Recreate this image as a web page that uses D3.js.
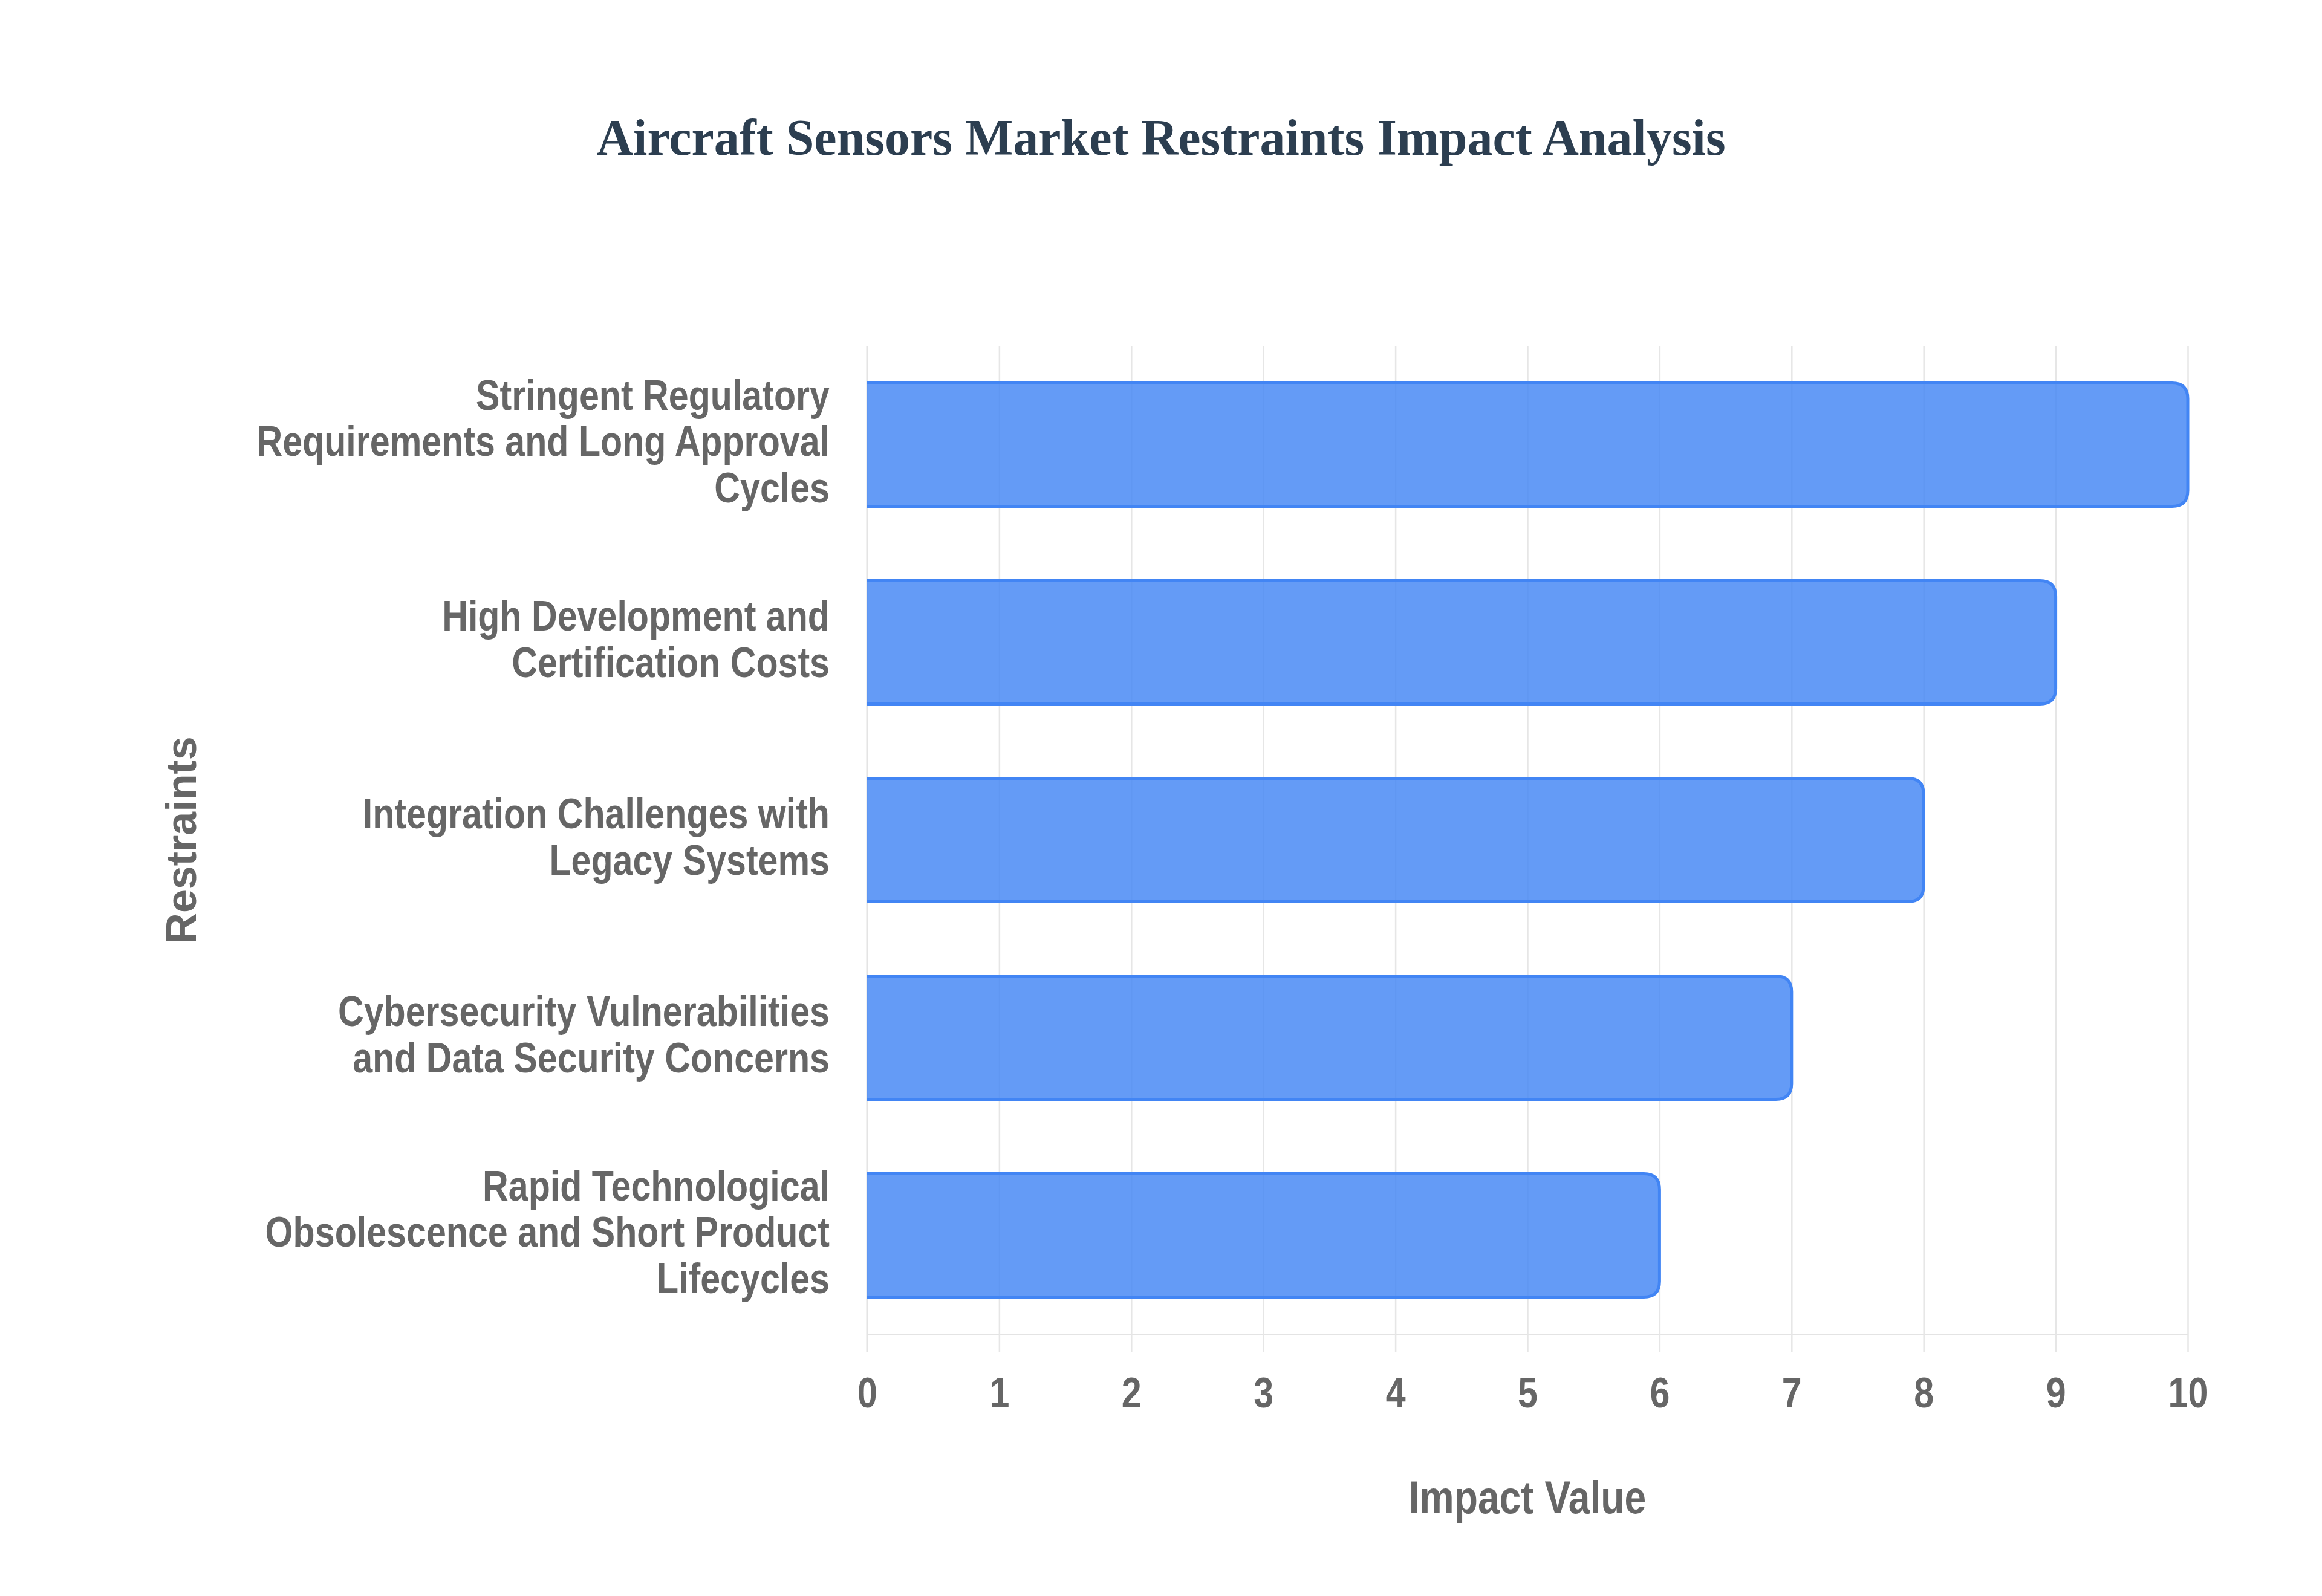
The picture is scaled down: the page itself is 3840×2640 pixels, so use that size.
<!DOCTYPE html>
<html>
<head>
<meta charset="utf-8">
<script src="https://cdn.jsdelivr.net/npm/d3@7"></script>
<style>
  body { margin: 0; background: #fff; }
  .tick-label { font-family: "Liberation Sans", Arial, sans-serif; font-weight: bold; fill: #666; }
</style>
</head>
<body>
<div class="viz"></div>
<script>
var restraints = [
    [ "Stringent Regulatory", "Requirements and Long Approval", "Cycles" ],
    [ "High Development and", "Certification Costs" ],
    [ "Integration Challenges with", "Legacy Systems" ],
    [ "Cybersecurity Vulnerabilities", "and Data Security Concerns" ],
    [ "Rapid Technological", "Obsolescence and Short Product", "Lifecycles" ]
];
var impactValues = [ 10, 9, 8, 7, 6 ];
var xTicks = [ 0, 1, 2, 3, 4, 5, 6, 7, 8, 9, 10 ];

var W = 3840, H = 2640,
    margin = { top: 572, right: 222, bottom: 433, left: 1434 },
    width = W - margin.left - margin.right,
    height = H - margin.top - margin.bottom,
    squeeze = 0.845; // labels in the source are in a condensed face

var svg = d3.select( ".viz" )
    .append( "svg" )
    .attr( "width", W )
    .attr( "height", H );

svg.append( "text" )
    .attr( "x", 1920 )
    .attr( "y", 256 )
    .attr( "text-anchor", "middle" )
    .style( "font-family", '"Liberation Serif", "Times New Roman", serif' )
    .style( "font-weight", "bold" )
    .style( "font-size", "84px" )
    .style( "fill", "#2c3e50" )
    .text( "Aircraft Sensors Market Restraints Impact Analysis" );

var g = svg.append( "g" )
    .attr( "transform", "translate(" + margin.left + "," + margin.top + ")" );

var x = d3.scaleLinear()
    .domain( [ 0, 10 ] )
    .range( [ 0, width ] );

var y = d3.scaleBand()
    .domain( d3.range( restraints.length ) )
    .range( [ 0, height ] )
    .paddingInner( 0.376 )
    .paddingOuter( 0.188 );

// vertical grid lines, running a little below the axis as ticks
var xAxis = d3.axisBottom( x )
    .tickValues( xTicks )
    .tickSize( -height )
    .tickSizeOuter( 0 )
    .tickPadding( 0 );

var xg = g.append( "g" )
    .attr( "transform", "translate(0," + height + ")" )
    .call( xAxis );

xg.select( ".domain" )
    .attr( "stroke", "#e4e4e4" )
    .attr( "stroke-width", 3 );

xg.selectAll( ".tick line" )
    .attr( "stroke", "#e6e6e6" )
    .attr( "stroke-width", 2.5 )
    .attr( "y1", 30 );

xg.selectAll( ".tick text" )
    .attr( "class", "tick-label" )
    .attr( "y", 121 )
    .attr( "dy", 0 )
    .attr( "transform", "scale(" + squeeze + ",1)" )
    .style( "font-size", "70px" );

// left axis line
g.append( "line" )
    .attr( "x1", x( 0 ) )
    .attr( "x2", x( 0 ) )
    .attr( "y1", 0 )
    .attr( "y2", height + 30 )
    .attr( "stroke", "#e4e4e4" )
    .attr( "stroke-width", 3 );

// bars: square at the axis, rounded at the value end
var r = 26;
function barPath( d, i ) {
    var x0 = x( 0 ), x1 = x( d ), y0 = y( i ), y1 = y( i ) + y.bandwidth();
    return "M" + x0 + "," + y0 +
        "H" + ( x1 - r ) +
        "Q" + x1 + "," + y0 + " " + x1 + "," + ( y0 + r ) +
        "V" + ( y1 - r ) +
        "Q" + x1 + "," + y1 + " " + ( x1 - r ) + "," + y1 +
        "H" + x0;
}

g.selectAll( ".bar" )
    .data( impactValues )
    .enter()
    .append( "path" )
    .attr( "class", "bar" )
    .attr( "d", barPath )
    .style( "fill", "#4285f4" )
    .style( "fill-opacity", 0.82 )
    .style( "stroke", "#4285f4" )
    .style( "stroke-width", 5 );

// category labels
var lineH = 77;
var labels = g.selectAll( ".cat" )
    .data( restraints )
    .enter()
    .append( "text" )
    .attr( "class", "cat tick-label" )
    .attr( "text-anchor", "end" )
    .style( "font-size", "70px" )
    .attr( "transform", function( d, i ) {
        var cy = y( i ) + y.bandwidth() / 2;
        return "translate(-62," + ( cy - ( d.length - 1 ) * lineH / 2 + 19 ) + ") scale(" + squeeze + ",1)";
    } );

labels.selectAll( "tspan" )
    .data( function( d ) { return d; } )
    .enter()
    .append( "tspan" )
    .attr( "x", 0 )
    .attr( "y", function( d, i ) { return i * lineH; } )
    .text( function( d ) { return d; } );

// axis titles
svg.append( "text" )
    .attr( "transform", "translate(" + ( margin.left + width / 2 ) + ",2503) scale(" + squeeze + ",1)" )
    .attr( "text-anchor", "middle" )
    .style( "font-family", '"Liberation Sans", Arial, sans-serif' )
    .style( "font-weight", "bold" )
    .style( "font-size", "76px" )
    .style( "fill", "#666" )
    .text( "Impact Value" );

svg.append( "text" )
    .attr( "transform", "translate(324," + ( margin.top + height / 2 ) + ") rotate(-90)" )
    .attr( "text-anchor", "middle" )
    .style( "font-family", '"Liberation Sans", Arial, sans-serif' )
    .style( "font-weight", "bold" )
    .style( "font-size", "70px" )
    .style( "fill", "#666" )
    .text( "Restraints" );
</script>
</body>
</html>
